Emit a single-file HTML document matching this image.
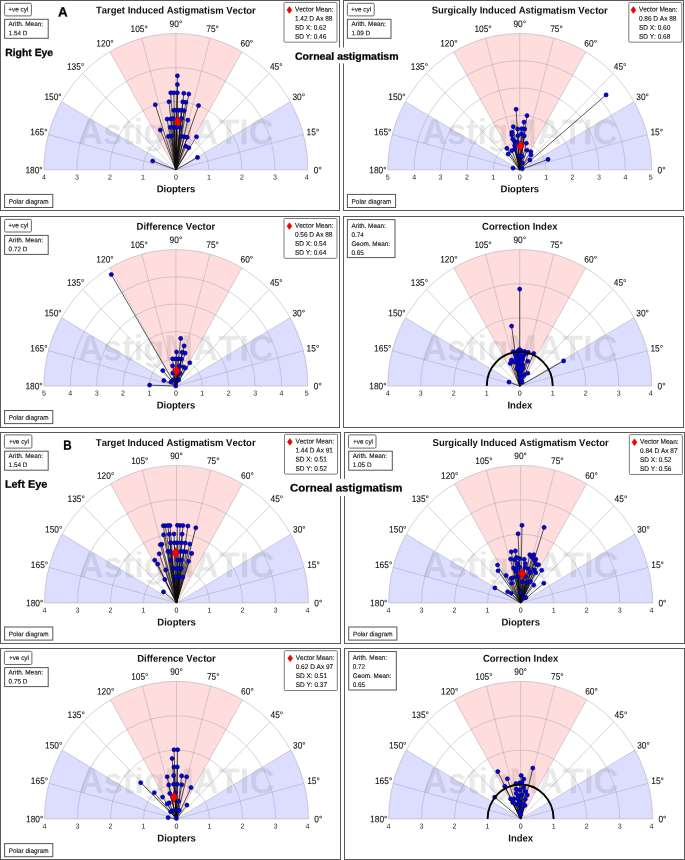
<!DOCTYPE html>
<html lang="en"><head><meta charset="utf-8"><title>Polar diagrams</title>
<style>html,body{margin:0;padding:0;background:#fff}body{width:685px;height:860px;overflow:hidden}svg{display:block}text{font-family:"Liberation Sans", sans-serif;font-kerning:none}</style></head><body>
<svg width="685" height="860" viewBox="0 0 685 860">
<rect width="685" height="860" fill="#fff"/>
<g>
<rect x="0.5" y="0.5" width="339" height="210" fill="#fff" stroke="#5a5a5a" stroke-width="1"/>
<path d="M175.9 169.85L241.93 51.72A132.05 136.4 0 0 0 109.88 51.72Z" fill="#ffdddd"/>
<path d="M175.9 169.85L307.95 169.85A132.05 136.4 0 0 0 290.26 101.65Z" fill="#ddddff"/>
<path d="M175.9 169.85L61.54 101.65A132.05 136.4 0 0 0 43.85 169.85Z" fill="#ddddff"/>
<text transform="translate(175.95 144.15) rotate(0.05) scale(0.96 1)" font-size="36" font-weight="700" text-anchor="middle" fill="#000" fill-opacity="0.085">AstigMATIC</text>
<path d="M142.89 169.85A33.01 34.1 0 0 1 175.9 135.75A33.01 34.1 0 0 1 208.91 169.85M109.88 169.85A66.03 68.2 0 0 1 175.9 101.65A66.03 68.2 0 0 1 241.93 169.85M76.86 169.85A99.04 102.3 0 0 1 175.9 67.55A99.04 102.3 0 0 1 274.94 169.85M43.85 169.85A132.05 136.4 0 0 1 175.9 33.45A132.05 136.4 0 0 1 307.95 169.85M175.9 169.85L307.95 169.85M175.9 169.85L303.45 134.55M175.9 169.85L290.26 101.65M175.9 169.85L269.27 73.4M175.9 169.85L241.93 51.72M175.9 169.85L210.08 38.1M175.9 169.85L175.9 33.45M175.9 169.85L141.72 38.1M175.9 169.85L109.88 51.72M175.9 169.85L82.53 73.4M175.9 169.85L61.54 101.65M175.9 169.85L48.35 134.55M175.9 169.85L43.85 169.85" fill="none" stroke="rgba(165,165,175,0.6)" stroke-width="0.8"/>
<g font-size="9.3" text-anchor="middle" fill="#111" stroke="#111" stroke-width="0.1"><text transform="translate(317.75 173.15) rotate(0.05) scale(0.9 1)">0°</text><text transform="translate(312.92 135.31) rotate(0.05) scale(0.9 1)">15°</text><text transform="translate(298.75 100.05) rotate(0.05) scale(0.9 1)">30°</text><text transform="translate(276.2 69.77) rotate(0.05) scale(0.9 1)">45°</text><text transform="translate(246.83 46.54) rotate(0.05) scale(0.9 1)">60°</text><text transform="translate(212.61 31.93) rotate(0.05) scale(0.9 1)">75°</text><text transform="translate(175.9 26.95) rotate(0.05) scale(0.9 1)">90°</text><text transform="translate(139.19 31.93) rotate(0.05) scale(0.9 1)">105°</text><text transform="translate(104.98 46.54) rotate(0.05) scale(0.9 1)">120°</text><text transform="translate(75.6 69.77) rotate(0.05) scale(0.9 1)">135°</text><text transform="translate(53.05 100.05) rotate(0.05) scale(0.9 1)">150°</text><text transform="translate(38.88 135.31) rotate(0.05) scale(0.9 1)">165°</text><text transform="translate(34.05 173.15) rotate(0.05) scale(0.9 1)">180°</text></g>
<g font-size="7.1" text-anchor="middle" fill="#111"><text transform="translate(43.85 179.4) rotate(0.05)">4</text><text transform="translate(76.86 179.4) rotate(0.05)">3</text><text transform="translate(109.88 179.4) rotate(0.05)">2</text><text transform="translate(142.89 179.4) rotate(0.05)">1</text><text transform="translate(175.9 179.4) rotate(0.05)">0</text><text transform="translate(208.91 179.4) rotate(0.05)">1</text><text transform="translate(241.93 179.4) rotate(0.05)">2</text><text transform="translate(274.94 179.4) rotate(0.05)">3</text><text transform="translate(306.75 179.4) rotate(0.05)">4</text></g>
<text transform="translate(175.9 13.6) rotate(0.05) scale(0.96 1)" font-size="9.9" font-weight="700" text-anchor="middle" fill="#111">Target Induced Astigmatism Vector</text>
<text transform="translate(176 192.35) rotate(0.05) scale(0.96 1)" font-size="9.9" font-weight="700" text-anchor="middle" fill="#111">Diopters</text>
<path d="M175.9 169.85L177.4 75.8M175.9 169.85L177.4 84.5M175.9 169.85L170.7 92.8M175.9 169.85L173.8 92.8M175.9 169.85L177.4 92.8M175.9 169.85L183.8 93.2M175.9 169.85L188.8 94M175.9 169.85L169 101.7M175.9 169.85L182.8 101.9M175.9 169.85L185.8 102.3M175.9 169.85L155.3 104.7M175.9 169.85L198.5 105.6M175.9 169.85L173.8 110.2M175.9 169.85L176.2 110.2M175.9 169.85L178.7 110.2M175.9 169.85L181.2 110.3M175.9 169.85L184.1 110.6M175.9 169.85L167.1 119.1M175.9 169.85L170.9 118.9M175.9 169.85L173.4 118.6M175.9 169.85L181.4 118.6M175.9 169.85L187.8 120.1M175.9 169.85L170.2 127.3M175.9 169.85L173.8 127.3M175.9 169.85L176.5 127.3M175.9 169.85L180.2 127.4M175.9 169.85L160.4 130M175.9 169.85L168.4 136.4M175.9 169.85L171.4 136M175.9 169.85L181.8 136.3M175.9 169.85L184.5 136.8M175.9 169.85L187.2 137.3M175.9 169.85L196.5 136.8M175.9 169.85L185.8 146.3M175.9 169.85L188.8 147.8M175.9 169.85L197.5 157.4M175.9 169.85L152.7 161" fill="none" stroke="#0c0c0c" stroke-width="0.68"/>
<g fill="#0000e6" stroke="#000050" stroke-width="0.6"><circle cx="177.4" cy="75.8" r="2.05"/><circle cx="177.4" cy="84.5" r="2.05"/><circle cx="170.7" cy="92.8" r="2.05"/><circle cx="173.8" cy="92.8" r="2.05"/><circle cx="177.4" cy="92.8" r="2.05"/><circle cx="183.8" cy="93.2" r="2.05"/><circle cx="188.8" cy="94" r="2.05"/><circle cx="169" cy="101.7" r="2.05"/><circle cx="182.8" cy="101.9" r="2.05"/><circle cx="185.8" cy="102.3" r="2.05"/><circle cx="155.3" cy="104.7" r="2.05"/><circle cx="198.5" cy="105.6" r="2.05"/><circle cx="173.8" cy="110.2" r="2.05"/><circle cx="176.2" cy="110.2" r="2.05"/><circle cx="178.7" cy="110.2" r="2.05"/><circle cx="181.2" cy="110.3" r="2.05"/><circle cx="184.1" cy="110.6" r="2.05"/><circle cx="167.1" cy="119.1" r="2.05"/><circle cx="170.9" cy="118.9" r="2.05"/><circle cx="173.4" cy="118.6" r="2.05"/><circle cx="181.4" cy="118.6" r="2.05"/><circle cx="187.8" cy="120.1" r="2.05"/><circle cx="170.2" cy="127.3" r="2.05"/><circle cx="173.8" cy="127.3" r="2.05"/><circle cx="176.5" cy="127.3" r="2.05"/><circle cx="180.2" cy="127.4" r="2.05"/><circle cx="160.4" cy="130" r="2.05"/><circle cx="168.4" cy="136.4" r="2.05"/><circle cx="171.4" cy="136" r="2.05"/><circle cx="181.8" cy="136.3" r="2.05"/><circle cx="184.5" cy="136.8" r="2.05"/><circle cx="187.2" cy="137.3" r="2.05"/><circle cx="196.5" cy="136.8" r="2.05"/><circle cx="185.8" cy="146.3" r="2.05"/><circle cx="188.8" cy="147.8" r="2.05"/><circle cx="197.5" cy="157.4" r="2.05"/><circle cx="152.7" cy="161" r="2.05"/></g>
<path d="M177.5 116.15L181.25 121.4L177.5 126.65L173.75 121.4Z" fill="#ff0000" stroke="#7a0000" stroke-width="0.5"/>
<rect x="4.6" y="3.3" width="26.8" height="12.6" rx="1.2" fill="#fff" stroke="#6a6a6a" stroke-width="1"/>
<text transform="translate(8.3 11.45) rotate(0.05) scale(0.96 1)" font-size="6.66" fill="#111" stroke="#111" stroke-width="0.12">+ve cyl</text>
<rect x="4.6" y="19.3" width="43.6" height="19" fill="#fff" stroke="#555" stroke-width="1"/>
<text transform="translate(8.6 26.1) rotate(0.05) scale(0.96 1)" font-size="6.66" fill="#111" stroke="#111" stroke-width="0.12">Arith. Mean:</text>
<text transform="translate(8.6 35.15) rotate(0.05) scale(0.96 1)" font-size="6.66" fill="#111" stroke="#111" stroke-width="0.12">1.54 D</text>
<rect x="284" y="2.4" width="53" height="39.8" rx="0.8" fill="#fff" stroke="#7c7c7c" stroke-width="1"/>
<path d="M289.4 6.6l2.5 3.4l-2.5 3.4l-2.5 -3.4z" fill="#ff0000" stroke="#7a0000" stroke-width="0.4"/>
<text transform="translate(294.9 11.6) rotate(0.05) scale(0.96 1)" font-size="6.78" fill="#111" stroke="#111" stroke-width="0.12">Vector Mean:</text>
<text transform="translate(294.9 20.65) rotate(0.05) scale(0.96 1)" font-size="6.78" fill="#111" stroke="#111" stroke-width="0.12">1.42 D Ax 88</text>
<text transform="translate(294.9 29.7) rotate(0.05) scale(0.96 1)" font-size="6.78" fill="#111" stroke="#111" stroke-width="0.12">SD X: 0.62</text>
<text transform="translate(294.9 38.75) rotate(0.05) scale(0.96 1)" font-size="6.78" fill="#111" stroke="#111" stroke-width="0.12">SD Y: 0.46</text>
<rect x="4.6" y="194.4" width="48.2" height="13.1" fill="#fff" stroke="#555" stroke-width="1"/>
<text transform="translate(8.8 203.7) rotate(0.05) scale(0.96 1)" font-size="6.66" fill="#111" stroke="#111" stroke-width="0.12">Polar diagram</text>
</g>
<g>
<rect x="343.5" y="0.5" width="340" height="210" fill="#fff" stroke="#5a5a5a" stroke-width="1"/>
<path d="M519.75 169.85L585.77 51.72A132.05 136.4 0 0 0 453.73 51.72Z" fill="#ffdddd"/>
<path d="M519.75 169.85L651.8 169.85A132.05 136.4 0 0 0 634.11 101.65Z" fill="#ddddff"/>
<path d="M519.75 169.85L405.39 101.65A132.05 136.4 0 0 0 387.7 169.85Z" fill="#ddddff"/>
<text transform="translate(519.8 144.15) rotate(0.05) scale(0.96 1)" font-size="36" font-weight="700" text-anchor="middle" fill="#000" fill-opacity="0.085">AstigMATIC</text>
<path d="M493.34 169.85A26.41 27.28 0 0 1 519.75 142.57A26.41 27.28 0 0 1 546.16 169.85M466.93 169.85A52.82 54.56 0 0 1 519.75 115.29A52.82 54.56 0 0 1 572.57 169.85M440.52 169.85A79.23 81.84 0 0 1 519.75 88.01A79.23 81.84 0 0 1 598.98 169.85M414.11 169.85A105.64 109.12 0 0 1 519.75 60.73A105.64 109.12 0 0 1 625.39 169.85M387.7 169.85A132.05 136.4 0 0 1 519.75 33.45A132.05 136.4 0 0 1 651.8 169.85M519.75 169.85L651.8 169.85M519.75 169.85L647.3 134.55M519.75 169.85L634.11 101.65M519.75 169.85L613.12 73.4M519.75 169.85L585.77 51.72M519.75 169.85L553.93 38.1M519.75 169.85L519.75 33.45M519.75 169.85L485.57 38.1M519.75 169.85L453.73 51.72M519.75 169.85L426.38 73.4M519.75 169.85L405.39 101.65M519.75 169.85L392.2 134.55M519.75 169.85L387.7 169.85" fill="none" stroke="rgba(165,165,175,0.6)" stroke-width="0.8"/>
<g font-size="9.3" text-anchor="middle" fill="#111" stroke="#111" stroke-width="0.1"><text transform="translate(661.6 173.15) rotate(0.05) scale(0.9 1)">0°</text><text transform="translate(656.77 135.31) rotate(0.05) scale(0.9 1)">15°</text><text transform="translate(642.6 100.05) rotate(0.05) scale(0.9 1)">30°</text><text transform="translate(620.05 69.77) rotate(0.05) scale(0.9 1)">45°</text><text transform="translate(590.68 46.54) rotate(0.05) scale(0.9 1)">60°</text><text transform="translate(556.46 31.93) rotate(0.05) scale(0.9 1)">75°</text><text transform="translate(519.75 26.95) rotate(0.05) scale(0.9 1)">90°</text><text transform="translate(483.04 31.93) rotate(0.05) scale(0.9 1)">105°</text><text transform="translate(448.83 46.54) rotate(0.05) scale(0.9 1)">120°</text><text transform="translate(419.45 69.77) rotate(0.05) scale(0.9 1)">135°</text><text transform="translate(396.9 100.05) rotate(0.05) scale(0.9 1)">150°</text><text transform="translate(382.73 135.31) rotate(0.05) scale(0.9 1)">165°</text><text transform="translate(377.9 173.15) rotate(0.05) scale(0.9 1)">180°</text></g>
<g font-size="7.1" text-anchor="middle" fill="#111"><text transform="translate(387.7 179.4) rotate(0.05)">5</text><text transform="translate(414.11 179.4) rotate(0.05)">4</text><text transform="translate(440.52 179.4) rotate(0.05)">3</text><text transform="translate(466.93 179.4) rotate(0.05)">2</text><text transform="translate(493.34 179.4) rotate(0.05)">1</text><text transform="translate(519.75 179.4) rotate(0.05)">0</text><text transform="translate(546.16 179.4) rotate(0.05)">1</text><text transform="translate(572.57 179.4) rotate(0.05)">2</text><text transform="translate(598.98 179.4) rotate(0.05)">3</text><text transform="translate(625.39 179.4) rotate(0.05)">4</text><text transform="translate(650.6 179.4) rotate(0.05)">5</text></g>
<text transform="translate(519.75 13.6) rotate(0.05) scale(0.96 1)" font-size="9.9" font-weight="700" text-anchor="middle" fill="#111">Surgically Induced Astigmatism Vector</text>
<text transform="translate(519.85 192.35) rotate(0.05) scale(0.96 1)" font-size="9.9" font-weight="700" text-anchor="middle" fill="#111">Diopters</text>
<path d="M519.75 169.85L516.1 109.3M519.75 169.85L527 115.6M519.75 169.85L524 122.1M519.75 169.85L513.3 126.7M519.75 169.85L517.6 129M519.75 169.85L521.7 128.7M519.75 169.85L524.7 129M519.75 169.85L511.8 132.3M519.75 169.85L511.8 134.9M519.75 169.85L517.8 135.7M519.75 169.85L521.4 133.8M519.75 169.85L524.2 135.9M519.75 169.85L512.7 139.1M519.75 169.85L514.5 141M519.75 169.85L517.4 142M519.75 169.85L526.3 143.2M519.75 169.85L514.7 145.6M519.75 169.85L506.9 148.4M519.75 169.85L514.5 149.2M519.75 169.85L511.7 150.7M519.75 169.85L527 150.2M519.75 169.85L530.9 151.7M519.75 169.85L508.1 154M519.75 169.85L531.1 155.1M519.75 169.85L519.1 156M519.75 169.85L522.2 156.3M519.75 169.85L529.9 160.1M519.75 169.85L522.4 163M519.75 169.85L548 159.4M519.75 169.85L513 168.1M519.75 169.85L522.2 168.8M519.75 169.85L606.1 94.9" fill="none" stroke="#0c0c0c" stroke-width="0.68"/>
<g fill="#0000e6" stroke="#000050" stroke-width="0.6"><circle cx="516.1" cy="109.3" r="2.05"/><circle cx="527" cy="115.6" r="2.05"/><circle cx="524" cy="122.1" r="2.05"/><circle cx="513.3" cy="126.7" r="2.05"/><circle cx="517.6" cy="129" r="2.05"/><circle cx="521.7" cy="128.7" r="2.05"/><circle cx="524.7" cy="129" r="2.05"/><circle cx="511.8" cy="132.3" r="2.05"/><circle cx="511.8" cy="134.9" r="2.05"/><circle cx="517.8" cy="135.7" r="2.05"/><circle cx="521.4" cy="133.8" r="2.05"/><circle cx="524.2" cy="135.9" r="2.05"/><circle cx="512.7" cy="139.1" r="2.05"/><circle cx="514.5" cy="141" r="2.05"/><circle cx="517.4" cy="142" r="2.05"/><circle cx="526.3" cy="143.2" r="2.05"/><circle cx="514.7" cy="145.6" r="2.05"/><circle cx="506.9" cy="148.4" r="2.05"/><circle cx="514.5" cy="149.2" r="2.05"/><circle cx="511.7" cy="150.7" r="2.05"/><circle cx="527" cy="150.2" r="2.05"/><circle cx="530.9" cy="151.7" r="2.05"/><circle cx="508.1" cy="154" r="2.05"/><circle cx="531.1" cy="155.1" r="2.05"/><circle cx="519.1" cy="156" r="2.05"/><circle cx="522.2" cy="156.3" r="2.05"/><circle cx="529.9" cy="160.1" r="2.05"/><circle cx="522.4" cy="163" r="2.05"/><circle cx="548" cy="159.4" r="2.05"/><circle cx="513" cy="168.1" r="2.05"/><circle cx="522.2" cy="168.8" r="2.05"/><circle cx="606.1" cy="94.9" r="2.05"/></g>
<path d="M520.5 140.85L524.25 146.1L520.5 151.35L516.75 146.1Z" fill="#ff0000" stroke="#7a0000" stroke-width="0.5"/>
<rect x="347.4" y="3.3" width="26.8" height="12.6" rx="1.2" fill="#fff" stroke="#6a6a6a" stroke-width="1"/>
<text transform="translate(351.1 11.45) rotate(0.05) scale(0.96 1)" font-size="6.66" fill="#111" stroke="#111" stroke-width="0.12">+ve cyl</text>
<rect x="347.4" y="19.3" width="43.6" height="19" fill="#fff" stroke="#555" stroke-width="1"/>
<text transform="translate(351.4 26.1) rotate(0.05) scale(0.96 1)" font-size="6.66" fill="#111" stroke="#111" stroke-width="0.12">Arith. Mean:</text>
<text transform="translate(351.4 35.15) rotate(0.05) scale(0.96 1)" font-size="6.66" fill="#111" stroke="#111" stroke-width="0.12">1.09 D</text>
<rect x="628.8" y="2.4" width="53" height="39.8" rx="0.8" fill="#fff" stroke="#7c7c7c" stroke-width="1"/>
<path d="M633.4 6.6l2.5 3.4l-2.5 3.4l-2.5 -3.4z" fill="#ff0000" stroke="#7a0000" stroke-width="0.4"/>
<text transform="translate(638.9 11.6) rotate(0.05) scale(0.96 1)" font-size="6.78" fill="#111" stroke="#111" stroke-width="0.12">Vector Mean:</text>
<text transform="translate(638.9 20.65) rotate(0.05) scale(0.96 1)" font-size="6.78" fill="#111" stroke="#111" stroke-width="0.12">0.86 D Ax 88</text>
<text transform="translate(638.9 29.7) rotate(0.05) scale(0.96 1)" font-size="6.78" fill="#111" stroke="#111" stroke-width="0.12">SD X: 0.60</text>
<text transform="translate(638.9 38.75) rotate(0.05) scale(0.96 1)" font-size="6.78" fill="#111" stroke="#111" stroke-width="0.12">SD Y: 0.68</text>
<rect x="347.4" y="194.4" width="48.2" height="13.1" fill="#fff" stroke="#555" stroke-width="1"/>
<text transform="translate(351.6 203.7) rotate(0.05) scale(0.96 1)" font-size="6.66" fill="#111" stroke="#111" stroke-width="0.12">Polar diagram</text>
</g>
<g>
<rect x="0.5" y="216.5" width="339" height="211" fill="#fff" stroke="#5a5a5a" stroke-width="1"/>
<path d="M175.9 386.05L241.93 267.79A132.05 136.55 0 0 0 109.88 267.79Z" fill="#ffdddd"/>
<path d="M175.9 386.05L307.95 386.05A132.05 136.55 0 0 0 290.26 317.78Z" fill="#ddddff"/>
<path d="M175.9 386.05L61.54 317.78A132.05 136.55 0 0 0 43.85 386.05Z" fill="#ddddff"/>
<text transform="translate(175.95 360.35) rotate(0.05) scale(0.96 1)" font-size="36" font-weight="700" text-anchor="middle" fill="#000" fill-opacity="0.085">AstigMATIC</text>
<path d="M149.49 386.05A26.41 27.31 0 0 1 175.9 358.74A26.41 27.31 0 0 1 202.31 386.05M123.08 386.05A52.82 54.62 0 0 1 175.9 331.43A52.82 54.62 0 0 1 228.72 386.05M96.67 386.05A79.23 81.93 0 0 1 175.9 304.12A79.23 81.93 0 0 1 255.13 386.05M70.26 386.05A105.64 109.24 0 0 1 175.9 276.81A105.64 109.24 0 0 1 281.54 386.05M43.85 386.05A132.05 136.55 0 0 1 175.9 249.5A132.05 136.55 0 0 1 307.95 386.05M175.9 386.05L307.95 386.05M175.9 386.05L303.45 350.71M175.9 386.05L290.26 317.78M175.9 386.05L269.27 289.49M175.9 386.05L241.93 267.79M175.9 386.05L210.08 254.15M175.9 386.05L175.9 249.5M175.9 386.05L141.72 254.15M175.9 386.05L109.88 267.79M175.9 386.05L82.53 289.49M175.9 386.05L61.54 317.78M175.9 386.05L48.35 350.71M175.9 386.05L43.85 386.05" fill="none" stroke="rgba(165,165,175,0.6)" stroke-width="0.8"/>
<g font-size="9.3" text-anchor="middle" fill="#111" stroke="#111" stroke-width="0.1"><text transform="translate(317.75 389.35) rotate(0.05) scale(0.9 1)">0°</text><text transform="translate(312.92 351.47) rotate(0.05) scale(0.9 1)">15°</text><text transform="translate(298.75 316.18) rotate(0.05) scale(0.9 1)">30°</text><text transform="translate(276.2 285.86) rotate(0.05) scale(0.9 1)">45°</text><text transform="translate(246.83 262.61) rotate(0.05) scale(0.9 1)">60°</text><text transform="translate(212.61 247.99) rotate(0.05) scale(0.9 1)">75°</text><text transform="translate(175.9 243) rotate(0.05) scale(0.9 1)">90°</text><text transform="translate(139.19 247.99) rotate(0.05) scale(0.9 1)">105°</text><text transform="translate(104.98 262.61) rotate(0.05) scale(0.9 1)">120°</text><text transform="translate(75.6 285.86) rotate(0.05) scale(0.9 1)">135°</text><text transform="translate(53.05 316.18) rotate(0.05) scale(0.9 1)">150°</text><text transform="translate(38.88 351.47) rotate(0.05) scale(0.9 1)">165°</text><text transform="translate(34.05 389.35) rotate(0.05) scale(0.9 1)">180°</text></g>
<g font-size="7.1" text-anchor="middle" fill="#111"><text transform="translate(43.85 395.6) rotate(0.05)">5</text><text transform="translate(70.26 395.6) rotate(0.05)">4</text><text transform="translate(96.67 395.6) rotate(0.05)">3</text><text transform="translate(123.08 395.6) rotate(0.05)">2</text><text transform="translate(149.49 395.6) rotate(0.05)">1</text><text transform="translate(175.9 395.6) rotate(0.05)">0</text><text transform="translate(202.31 395.6) rotate(0.05)">1</text><text transform="translate(228.72 395.6) rotate(0.05)">2</text><text transform="translate(255.13 395.6) rotate(0.05)">3</text><text transform="translate(281.54 395.6) rotate(0.05)">4</text><text transform="translate(306.75 395.6) rotate(0.05)">5</text></g>
<text transform="translate(175.9 229.7) rotate(0.05) scale(0.96 1)" font-size="9.9" font-weight="700" text-anchor="middle" fill="#111">Difference Vector</text>
<text transform="translate(176 408.55) rotate(0.05) scale(0.96 1)" font-size="9.9" font-weight="700" text-anchor="middle" fill="#111">Diopters</text>
<path d="M175.9 386.05L180.7 338.4M175.9 386.05L184.1 345.9M175.9 386.05L176.5 352M175.9 386.05L182.2 352.4M175.9 386.05L185.1 353.1M175.9 386.05L172.6 358.9M175.9 386.05L175.6 358.9M175.9 386.05L178.3 358.9M175.9 386.05L181.4 359.1M175.9 386.05L189.8 362.7M175.9 386.05L172.6 365.8M175.9 386.05L179.4 366M175.9 386.05L183.6 367.1M175.9 386.05L185.4 368M175.9 386.05L162.8 370.6M175.9 386.05L172.8 373.1M175.9 386.05L180 373.3M175.9 386.05L173.4 379.7M175.9 386.05L178.7 379.9M175.9 386.05L163.8 380.5M175.9 386.05L170.9 381.9M175.9 386.05L149.6 385.1M175.9 386.05L175.8 386M175.9 386.05L111.3 274.5" fill="none" stroke="#0c0c0c" stroke-width="0.68"/>
<g fill="#0000e6" stroke="#000050" stroke-width="0.6"><circle cx="180.7" cy="338.4" r="2.05"/><circle cx="184.1" cy="345.9" r="2.05"/><circle cx="176.5" cy="352" r="2.05"/><circle cx="182.2" cy="352.4" r="2.05"/><circle cx="185.1" cy="353.1" r="2.05"/><circle cx="172.6" cy="358.9" r="2.05"/><circle cx="175.6" cy="358.9" r="2.05"/><circle cx="178.3" cy="358.9" r="2.05"/><circle cx="181.4" cy="359.1" r="2.05"/><circle cx="189.8" cy="362.7" r="2.05"/><circle cx="172.6" cy="365.8" r="2.05"/><circle cx="179.4" cy="366" r="2.05"/><circle cx="183.6" cy="367.1" r="2.05"/><circle cx="185.4" cy="368" r="2.05"/><circle cx="162.8" cy="370.6" r="2.05"/><circle cx="172.8" cy="373.1" r="2.05"/><circle cx="180" cy="373.3" r="2.05"/><circle cx="173.4" cy="379.7" r="2.05"/><circle cx="178.7" cy="379.9" r="2.05"/><circle cx="163.8" cy="380.5" r="2.05"/><circle cx="170.9" cy="381.9" r="2.05"/><circle cx="149.6" cy="385.1" r="2.05"/><circle cx="175.8" cy="386" r="2.05"/><circle cx="111.3" cy="274.5" r="2.05"/></g>
<path d="M176.5 365.65L180.25 370.9L176.5 376.15L172.75 370.9Z" fill="#ff0000" stroke="#7a0000" stroke-width="0.5"/>
<rect x="4.6" y="219.4" width="26.8" height="12.6" rx="1.2" fill="#fff" stroke="#6a6a6a" stroke-width="1"/>
<text transform="translate(8.3 227.55) rotate(0.05) scale(0.96 1)" font-size="6.66" fill="#111" stroke="#111" stroke-width="0.12">+ve cyl</text>
<rect x="4.6" y="235.4" width="43.6" height="19" fill="#fff" stroke="#555" stroke-width="1"/>
<text transform="translate(8.6 242.2) rotate(0.05) scale(0.96 1)" font-size="6.66" fill="#111" stroke="#111" stroke-width="0.12">Arith. Mean:</text>
<text transform="translate(8.6 251.25) rotate(0.05) scale(0.96 1)" font-size="6.66" fill="#111" stroke="#111" stroke-width="0.12">0.72 D</text>
<rect x="284" y="218.5" width="53" height="39.8" rx="0.8" fill="#fff" stroke="#7c7c7c" stroke-width="1"/>
<path d="M289.4 222.7l2.5 3.4l-2.5 3.4l-2.5 -3.4z" fill="#ff0000" stroke="#7a0000" stroke-width="0.4"/>
<text transform="translate(294.9 227.7) rotate(0.05) scale(0.96 1)" font-size="6.78" fill="#111" stroke="#111" stroke-width="0.12">Vector Mean:</text>
<text transform="translate(294.9 236.75) rotate(0.05) scale(0.96 1)" font-size="6.78" fill="#111" stroke="#111" stroke-width="0.12">0.56 D Ax 88</text>
<text transform="translate(294.9 245.8) rotate(0.05) scale(0.96 1)" font-size="6.78" fill="#111" stroke="#111" stroke-width="0.12">SD X: 0.54</text>
<text transform="translate(294.9 254.85) rotate(0.05) scale(0.96 1)" font-size="6.78" fill="#111" stroke="#111" stroke-width="0.12">SD Y: 0.64</text>
<rect x="4.6" y="410.5" width="48.2" height="13.1" fill="#fff" stroke="#555" stroke-width="1"/>
<text transform="translate(8.8 419.8) rotate(0.05) scale(0.96 1)" font-size="6.66" fill="#111" stroke="#111" stroke-width="0.12">Polar diagram</text>
</g>
<g>
<rect x="343.5" y="216.5" width="340" height="211" fill="#fff" stroke="#5a5a5a" stroke-width="1"/>
<path d="M519.75 386.05L585.77 267.79A132.05 136.55 0 0 0 453.73 267.79Z" fill="#ffdddd"/>
<path d="M519.75 386.05L651.8 386.05A132.05 136.55 0 0 0 634.11 317.78Z" fill="#ddddff"/>
<path d="M519.75 386.05L405.39 317.78A132.05 136.55 0 0 0 387.7 386.05Z" fill="#ddddff"/>
<text transform="translate(519.8 360.35) rotate(0.05) scale(0.96 1)" font-size="36" font-weight="700" text-anchor="middle" fill="#000" fill-opacity="0.085">AstigMATIC</text>
<path d="M486.74 386.05A33.01 34.14 0 0 1 519.75 351.91A33.01 34.14 0 0 1 552.76 386.05M453.73 386.05A66.03 68.28 0 0 1 519.75 317.77A66.03 68.28 0 0 1 585.77 386.05M420.71 386.05A99.04 102.41 0 0 1 519.75 283.64A99.04 102.41 0 0 1 618.79 386.05M387.7 386.05A132.05 136.55 0 0 1 519.75 249.5A132.05 136.55 0 0 1 651.8 386.05M519.75 386.05L651.8 386.05M519.75 386.05L647.3 350.71M519.75 386.05L634.11 317.78M519.75 386.05L613.12 289.49M519.75 386.05L585.77 267.79M519.75 386.05L553.93 254.15M519.75 386.05L519.75 249.5M519.75 386.05L485.57 254.15M519.75 386.05L453.73 267.79M519.75 386.05L426.38 289.49M519.75 386.05L405.39 317.78M519.75 386.05L392.2 350.71M519.75 386.05L387.7 386.05" fill="none" stroke="rgba(165,165,175,0.6)" stroke-width="0.8"/>
<g font-size="9.3" text-anchor="middle" fill="#111" stroke="#111" stroke-width="0.1"><text transform="translate(661.6 389.35) rotate(0.05) scale(0.9 1)">0°</text><text transform="translate(656.77 351.47) rotate(0.05) scale(0.9 1)">15°</text><text transform="translate(642.6 316.18) rotate(0.05) scale(0.9 1)">30°</text><text transform="translate(620.05 285.86) rotate(0.05) scale(0.9 1)">45°</text><text transform="translate(590.68 262.61) rotate(0.05) scale(0.9 1)">60°</text><text transform="translate(556.46 247.99) rotate(0.05) scale(0.9 1)">75°</text><text transform="translate(519.75 243) rotate(0.05) scale(0.9 1)">90°</text><text transform="translate(483.04 247.99) rotate(0.05) scale(0.9 1)">105°</text><text transform="translate(448.83 262.61) rotate(0.05) scale(0.9 1)">120°</text><text transform="translate(419.45 285.86) rotate(0.05) scale(0.9 1)">135°</text><text transform="translate(396.9 316.18) rotate(0.05) scale(0.9 1)">150°</text><text transform="translate(382.73 351.47) rotate(0.05) scale(0.9 1)">165°</text><text transform="translate(377.9 389.35) rotate(0.05) scale(0.9 1)">180°</text></g>
<g font-size="7.1" text-anchor="middle" fill="#111"><text transform="translate(387.7 395.6) rotate(0.05)">4</text><text transform="translate(420.71 395.6) rotate(0.05)">3</text><text transform="translate(453.73 395.6) rotate(0.05)">2</text><text transform="translate(486.74 395.6) rotate(0.05)">1</text><text transform="translate(519.75 395.6) rotate(0.05)">0</text><text transform="translate(552.76 395.6) rotate(0.05)">1</text><text transform="translate(585.77 395.6) rotate(0.05)">2</text><text transform="translate(618.79 395.6) rotate(0.05)">3</text><text transform="translate(650.6 395.6) rotate(0.05)">4</text></g>
<text transform="translate(519.75 229.7) rotate(0.05) scale(0.96 1)" font-size="9.9" font-weight="700" text-anchor="middle" fill="#111">Correction Index</text>
<text transform="translate(519.85 408.55) rotate(0.05) scale(0.96 1)" font-size="9.9" font-weight="700" text-anchor="middle" fill="#111">Index</text>
<path d="M519.75 386.05L519.7 289.1M519.75 386.05L511.6 326.1M519.75 386.05L563.6 360.9M519.75 386.05L513.2 351.7M519.75 386.05L519.5 349.5M519.75 386.05L517.6 351.3M519.75 386.05L521.3 350.9M519.75 386.05L524.6 351.5M519.75 386.05L528.2 352.4M519.75 386.05L533.7 353.5M519.75 386.05L515.4 354.6M519.75 386.05L518.4 356.1M519.75 386.05L523.1 356.2M519.75 386.05L511.4 360.1M519.75 386.05L522.4 359.3M519.75 386.05L514.3 361.9M519.75 386.05L517.6 361.5M519.75 386.05L527.8 361.2M519.75 386.05L510.3 363.4M519.75 386.05L518.4 364.8M519.75 386.05L522.7 364.8M519.75 386.05L516.9 368.8M519.75 386.05L523.1 368.1M519.75 386.05L520.2 371.4M519.75 386.05L527.8 373.2M519.75 386.05L519.8 374.3M519.75 386.05L524.2 375M519.75 386.05L520.9 379.8M519.75 386.05L522 382.2M519.75 386.05L509 382.1M519.75 386.05L519.9 352.6M519.75 386.05L520.6 358.2M519.75 386.05L519.2 366.6M519.75 386.05L521 362.2M519.75 386.05L521.4 377M519.75 386.05L516 358.4M519.75 386.05L520.4 354.4M519.75 386.05L525.2 354M519.75 386.05L521.2 370" fill="none" stroke="#0c0c0c" stroke-width="0.68"/>
<g fill="#0000e6" stroke="#000050" stroke-width="0.6"><circle cx="519.7" cy="289.1" r="2.05"/><circle cx="511.6" cy="326.1" r="2.05"/><circle cx="563.6" cy="360.9" r="2.05"/><circle cx="513.2" cy="351.7" r="2.05"/><circle cx="519.5" cy="349.5" r="2.05"/><circle cx="517.6" cy="351.3" r="2.05"/><circle cx="521.3" cy="350.9" r="2.05"/><circle cx="524.6" cy="351.5" r="2.05"/><circle cx="528.2" cy="352.4" r="2.05"/><circle cx="533.7" cy="353.5" r="2.05"/><circle cx="515.4" cy="354.6" r="2.05"/><circle cx="518.4" cy="356.1" r="2.05"/><circle cx="523.1" cy="356.2" r="2.05"/><circle cx="511.4" cy="360.1" r="2.05"/><circle cx="522.4" cy="359.3" r="2.05"/><circle cx="514.3" cy="361.9" r="2.05"/><circle cx="517.6" cy="361.5" r="2.05"/><circle cx="527.8" cy="361.2" r="2.05"/><circle cx="510.3" cy="363.4" r="2.05"/><circle cx="518.4" cy="364.8" r="2.05"/><circle cx="522.7" cy="364.8" r="2.05"/><circle cx="516.9" cy="368.8" r="2.05"/><circle cx="523.1" cy="368.1" r="2.05"/><circle cx="520.2" cy="371.4" r="2.05"/><circle cx="527.8" cy="373.2" r="2.05"/><circle cx="519.8" cy="374.3" r="2.05"/><circle cx="524.2" cy="375" r="2.05"/><circle cx="520.9" cy="379.8" r="2.05"/><circle cx="522" cy="382.2" r="2.05"/><circle cx="509" cy="382.1" r="2.05"/><circle cx="519.9" cy="352.6" r="2.05"/><circle cx="520.6" cy="358.2" r="2.05"/><circle cx="519.2" cy="366.6" r="2.05"/><circle cx="521" cy="362.2" r="2.05"/><circle cx="521.4" cy="377" r="2.05"/><circle cx="516" cy="358.4" r="2.05"/><circle cx="520.4" cy="354.4" r="2.05"/><circle cx="525.2" cy="354" r="2.05"/><circle cx="521.2" cy="370" r="2.05"/></g>
<path d="M486.74 386.05A33.01 34.14 0 0 1 519.75 351.91A33.01 34.14 0 0 1 552.76 386.05" fill="none" stroke="#000" stroke-width="1.9"/>
<rect x="347.4" y="219.6" width="47.6" height="38" fill="#fff" stroke="#555" stroke-width="1"/>
<text transform="translate(351.4 227.9) rotate(0.05) scale(0.96 1)" font-size="6.66" fill="#111" stroke="#111" stroke-width="0.12">Arith. Mean:</text>
<text transform="translate(351.4 236.95) rotate(0.05) scale(0.96 1)" font-size="6.66" fill="#111" stroke="#111" stroke-width="0.12">0.74</text>
<text transform="translate(351.4 246) rotate(0.05) scale(0.96 1)" font-size="6.66" fill="#111" stroke="#111" stroke-width="0.12">Geom. Mean:</text>
<text transform="translate(351.4 255.05) rotate(0.05) scale(0.96 1)" font-size="6.66" fill="#111" stroke="#111" stroke-width="0.12">0.65</text>
</g>
<g>
<rect x="0.5" y="432.5" width="340" height="211" fill="#fff" stroke="#5a5a5a" stroke-width="1"/>
<path d="M176.5 602.95L242.53 483.83A132.05 137.55 0 0 0 110.48 483.83Z" fill="#ffdddd"/>
<path d="M176.5 602.95L308.55 602.95A132.05 137.55 0 0 0 290.86 534.18Z" fill="#ddddff"/>
<path d="M176.5 602.95L62.14 534.18A132.05 137.55 0 0 0 44.45 602.95Z" fill="#ddddff"/>
<text transform="translate(176.55 577.25) rotate(0.05) scale(0.96 1)" font-size="36" font-weight="700" text-anchor="middle" fill="#000" fill-opacity="0.085">AstigMATIC</text>
<path d="M143.49 602.95A33.01 34.39 0 0 1 176.5 568.56A33.01 34.39 0 0 1 209.51 602.95M110.47 602.95A66.03 68.78 0 0 1 176.5 534.18A66.03 68.78 0 0 1 242.53 602.95M77.46 602.95A99.04 103.16 0 0 1 176.5 499.79A99.04 103.16 0 0 1 275.54 602.95M44.45 602.95A132.05 137.55 0 0 1 176.5 465.4A132.05 137.55 0 0 1 308.55 602.95M176.5 602.95L308.55 602.95M176.5 602.95L304.05 567.35M176.5 602.95L290.86 534.18M176.5 602.95L269.87 505.69M176.5 602.95L242.53 483.83M176.5 602.95L210.68 470.09M176.5 602.95L176.5 465.4M176.5 602.95L142.32 470.09M176.5 602.95L110.48 483.83M176.5 602.95L83.13 505.69M176.5 602.95L62.14 534.18M176.5 602.95L48.95 567.35M176.5 602.95L44.45 602.95" fill="none" stroke="rgba(165,165,175,0.6)" stroke-width="0.8"/>
<g font-size="9.3" text-anchor="middle" fill="#111" stroke="#111" stroke-width="0.1"><text transform="translate(318.35 606.25) rotate(0.05) scale(0.9 1)">0°</text><text transform="translate(313.52 568.11) rotate(0.05) scale(0.9 1)">15°</text><text transform="translate(299.35 532.58) rotate(0.05) scale(0.9 1)">30°</text><text transform="translate(276.8 502.06) rotate(0.05) scale(0.9 1)">45°</text><text transform="translate(247.43 478.64) rotate(0.05) scale(0.9 1)">60°</text><text transform="translate(213.21 463.92) rotate(0.05) scale(0.9 1)">75°</text><text transform="translate(176.5 458.9) rotate(0.05) scale(0.9 1)">90°</text><text transform="translate(139.79 463.92) rotate(0.05) scale(0.9 1)">105°</text><text transform="translate(105.58 478.64) rotate(0.05) scale(0.9 1)">120°</text><text transform="translate(76.2 502.06) rotate(0.05) scale(0.9 1)">135°</text><text transform="translate(53.65 532.58) rotate(0.05) scale(0.9 1)">150°</text><text transform="translate(39.48 568.11) rotate(0.05) scale(0.9 1)">165°</text><text transform="translate(34.65 606.25) rotate(0.05) scale(0.9 1)">180°</text></g>
<g font-size="7.1" text-anchor="middle" fill="#111"><text transform="translate(44.45 612.5) rotate(0.05)">4</text><text transform="translate(77.46 612.5) rotate(0.05)">3</text><text transform="translate(110.47 612.5) rotate(0.05)">2</text><text transform="translate(143.49 612.5) rotate(0.05)">1</text><text transform="translate(176.5 612.5) rotate(0.05)">0</text><text transform="translate(209.51 612.5) rotate(0.05)">1</text><text transform="translate(242.53 612.5) rotate(0.05)">2</text><text transform="translate(275.54 612.5) rotate(0.05)">3</text><text transform="translate(307.35 612.5) rotate(0.05)">4</text></g>
<text transform="translate(175.7 446) rotate(0.05) scale(0.96 1)" font-size="9.9" font-weight="700" text-anchor="middle" fill="#111">Target Induced Astigmatism Vector</text>
<text transform="translate(176.6 625.45) rotate(0.05) scale(0.96 1)" font-size="9.9" font-weight="700" text-anchor="middle" fill="#111">Diopters</text>
<path d="M176.5 602.95L163.3 525.7M176.5 602.95L165.3 525.7M176.5 602.95L167.9 525.5M176.5 602.95L170 525.5M176.5 602.95L177.4 525.3M176.5 602.95L180.1 525.5M176.5 602.95L183 525.5M176.5 602.95L187.9 526M176.5 602.95L195.8 527.8M176.5 602.95L163.6 534.8M176.5 602.95L169.3 534.2M176.5 602.95L174 534M176.5 602.95L182.1 534.1M176.5 602.95L170.5 542.8M176.5 602.95L174.3 542.8M176.5 602.95L177.4 542.8M176.5 602.95L181.5 542.8M176.5 602.95L185.3 543M176.5 602.95L189.7 544M176.5 602.95L160.3 544.7M176.5 602.95L161.9 544.3M176.5 602.95L167.9 551.5M176.5 602.95L170.2 551.5M176.5 602.95L180.5 551.5M176.5 602.95L183.3 551.5M176.5 602.95L186.2 551.7M176.5 602.95L191.7 553.4M176.5 602.95L159.2 553.8M176.5 602.95L170.5 560M176.5 602.95L177.4 560M176.5 602.95L181.5 560M176.5 602.95L188.6 561.2M176.5 602.95L154.8 560.2M176.5 602.95L157.7 564.1M176.5 602.95L173.5 568.4M176.5 602.95L177.4 568.4M176.5 602.95L181.3 568.4M176.5 602.95L165.6 569.9M176.5 602.95L175.5 576.9M176.5 602.95L179.2 576.9M176.5 602.95L182.7 577.1M176.5 602.95L164.8 579.5M176.5 602.95L163.5 591.9" fill="none" stroke="#0c0c0c" stroke-width="0.68"/>
<g fill="#0000e6" stroke="#000050" stroke-width="0.6"><circle cx="163.3" cy="525.7" r="2.05"/><circle cx="165.3" cy="525.7" r="2.05"/><circle cx="167.9" cy="525.5" r="2.05"/><circle cx="170" cy="525.5" r="2.05"/><circle cx="177.4" cy="525.3" r="2.05"/><circle cx="180.1" cy="525.5" r="2.05"/><circle cx="183" cy="525.5" r="2.05"/><circle cx="187.9" cy="526" r="2.05"/><circle cx="195.8" cy="527.8" r="2.05"/><circle cx="163.6" cy="534.8" r="2.05"/><circle cx="169.3" cy="534.2" r="2.05"/><circle cx="174" cy="534" r="2.05"/><circle cx="182.1" cy="534.1" r="2.05"/><circle cx="170.5" cy="542.8" r="2.05"/><circle cx="174.3" cy="542.8" r="2.05"/><circle cx="177.4" cy="542.8" r="2.05"/><circle cx="181.5" cy="542.8" r="2.05"/><circle cx="185.3" cy="543" r="2.05"/><circle cx="189.7" cy="544" r="2.05"/><circle cx="160.3" cy="544.7" r="2.05"/><circle cx="161.9" cy="544.3" r="2.05"/><circle cx="167.9" cy="551.5" r="2.05"/><circle cx="170.2" cy="551.5" r="2.05"/><circle cx="180.5" cy="551.5" r="2.05"/><circle cx="183.3" cy="551.5" r="2.05"/><circle cx="186.2" cy="551.7" r="2.05"/><circle cx="191.7" cy="553.4" r="2.05"/><circle cx="159.2" cy="553.8" r="2.05"/><circle cx="170.5" cy="560" r="2.05"/><circle cx="177.4" cy="560" r="2.05"/><circle cx="181.5" cy="560" r="2.05"/><circle cx="188.6" cy="561.2" r="2.05"/><circle cx="154.8" cy="560.2" r="2.05"/><circle cx="157.7" cy="564.1" r="2.05"/><circle cx="173.5" cy="568.4" r="2.05"/><circle cx="177.4" cy="568.4" r="2.05"/><circle cx="181.3" cy="568.4" r="2.05"/><circle cx="165.6" cy="569.9" r="2.05"/><circle cx="175.5" cy="576.9" r="2.05"/><circle cx="179.2" cy="576.9" r="2.05"/><circle cx="182.7" cy="577.1" r="2.05"/><circle cx="164.8" cy="579.5" r="2.05"/><circle cx="163.5" cy="591.9" r="2.05"/></g>
<path d="M175.5 547.75L179.25 553L175.5 558.25L171.75 553Z" fill="#ff0000" stroke="#7a0000" stroke-width="0.5"/>
<rect x="4.4" y="434.9" width="27.5" height="13.2" rx="1.2" fill="#fff" stroke="#6a6a6a" stroke-width="1"/>
<text transform="translate(8.9 443.7) rotate(0.05) scale(0.96 1)" font-size="6.66" fill="#111" stroke="#111" stroke-width="0.12">+ve cyl</text>
<rect x="4.6" y="451.2" width="43.6" height="19" fill="#fff" stroke="#555" stroke-width="1"/>
<text transform="translate(8.6 458) rotate(0.05) scale(0.96 1)" font-size="6.66" fill="#111" stroke="#111" stroke-width="0.12">Arith. Mean:</text>
<text transform="translate(8.6 467.05) rotate(0.05) scale(0.96 1)" font-size="6.66" fill="#111" stroke="#111" stroke-width="0.12">1.54 D</text>
<rect x="284.5" y="434.3" width="53" height="39.8" rx="0.8" fill="#fff" stroke="#7c7c7c" stroke-width="1"/>
<path d="M289.9 438.5l2.5 3.4l-2.5 3.4l-2.5 -3.4z" fill="#ff0000" stroke="#7a0000" stroke-width="0.4"/>
<text transform="translate(295.4 443.5) rotate(0.05) scale(0.96 1)" font-size="6.78" fill="#111" stroke="#111" stroke-width="0.12">Vector Mean:</text>
<text transform="translate(295.4 452.55) rotate(0.05) scale(0.96 1)" font-size="6.78" fill="#111" stroke="#111" stroke-width="0.12">1.44 D Ax 91</text>
<text transform="translate(295.4 461.6) rotate(0.05) scale(0.96 1)" font-size="6.78" fill="#111" stroke="#111" stroke-width="0.12">SD X: 0.51</text>
<text transform="translate(295.4 470.65) rotate(0.05) scale(0.96 1)" font-size="6.78" fill="#111" stroke="#111" stroke-width="0.12">SD Y: 0.52</text>
<rect x="4.6" y="627" width="48.2" height="13.1" fill="#fff" stroke="#555" stroke-width="1"/>
<text transform="translate(8.8 636.3) rotate(0.05) scale(0.96 1)" font-size="6.66" fill="#111" stroke="#111" stroke-width="0.12">Polar diagram</text>
</g>
<g>
<rect x="344.5" y="432.5" width="340" height="211" fill="#fff" stroke="#5a5a5a" stroke-width="1"/>
<path d="M520.6 602.95L586.62 483.83A132.05 137.55 0 0 0 454.58 483.83Z" fill="#ffdddd"/>
<path d="M520.6 602.95L652.65 602.95A132.05 137.55 0 0 0 634.96 534.18Z" fill="#ddddff"/>
<path d="M520.6 602.95L406.24 534.18A132.05 137.55 0 0 0 388.55 602.95Z" fill="#ddddff"/>
<text transform="translate(520.65 577.25) rotate(0.05) scale(0.96 1)" font-size="36" font-weight="700" text-anchor="middle" fill="#000" fill-opacity="0.085">AstigMATIC</text>
<path d="M487.59 602.95A33.01 34.39 0 0 1 520.6 568.56A33.01 34.39 0 0 1 553.61 602.95M454.58 602.95A66.03 68.78 0 0 1 520.6 534.18A66.03 68.78 0 0 1 586.62 602.95M421.56 602.95A99.04 103.16 0 0 1 520.6 499.79A99.04 103.16 0 0 1 619.64 602.95M388.55 602.95A132.05 137.55 0 0 1 520.6 465.4A132.05 137.55 0 0 1 652.65 602.95M520.6 602.95L652.65 602.95M520.6 602.95L648.15 567.35M520.6 602.95L634.96 534.18M520.6 602.95L613.97 505.69M520.6 602.95L586.62 483.83M520.6 602.95L554.78 470.09M520.6 602.95L520.6 465.4M520.6 602.95L486.42 470.09M520.6 602.95L454.58 483.83M520.6 602.95L427.23 505.69M520.6 602.95L406.24 534.18M520.6 602.95L393.05 567.35M520.6 602.95L388.55 602.95" fill="none" stroke="rgba(165,165,175,0.6)" stroke-width="0.8"/>
<g font-size="9.3" text-anchor="middle" fill="#111" stroke="#111" stroke-width="0.1"><text transform="translate(662.45 606.25) rotate(0.05) scale(0.9 1)">0°</text><text transform="translate(657.62 568.11) rotate(0.05) scale(0.9 1)">15°</text><text transform="translate(643.45 532.58) rotate(0.05) scale(0.9 1)">30°</text><text transform="translate(620.9 502.06) rotate(0.05) scale(0.9 1)">45°</text><text transform="translate(591.53 478.64) rotate(0.05) scale(0.9 1)">60°</text><text transform="translate(557.31 463.92) rotate(0.05) scale(0.9 1)">75°</text><text transform="translate(520.6 458.9) rotate(0.05) scale(0.9 1)">90°</text><text transform="translate(483.89 463.92) rotate(0.05) scale(0.9 1)">105°</text><text transform="translate(449.68 478.64) rotate(0.05) scale(0.9 1)">120°</text><text transform="translate(420.3 502.06) rotate(0.05) scale(0.9 1)">135°</text><text transform="translate(397.75 532.58) rotate(0.05) scale(0.9 1)">150°</text><text transform="translate(383.58 568.11) rotate(0.05) scale(0.9 1)">165°</text><text transform="translate(378.75 606.25) rotate(0.05) scale(0.9 1)">180°</text></g>
<g font-size="7.1" text-anchor="middle" fill="#111"><text transform="translate(388.55 612.5) rotate(0.05)">4</text><text transform="translate(421.56 612.5) rotate(0.05)">3</text><text transform="translate(454.58 612.5) rotate(0.05)">2</text><text transform="translate(487.59 612.5) rotate(0.05)">1</text><text transform="translate(520.6 612.5) rotate(0.05)">0</text><text transform="translate(553.61 612.5) rotate(0.05)">1</text><text transform="translate(586.62 612.5) rotate(0.05)">2</text><text transform="translate(619.64 612.5) rotate(0.05)">3</text><text transform="translate(651.45 612.5) rotate(0.05)">4</text></g>
<text transform="translate(520.6 446) rotate(0.05) scale(0.96 1)" font-size="9.9" font-weight="700" text-anchor="middle" fill="#111">Surgically Induced Astigmatism Vector</text>
<text transform="translate(520.7 625.45) rotate(0.05) scale(0.96 1)" font-size="9.9" font-weight="700" text-anchor="middle" fill="#111">Diopters</text>
<path d="M520.6 602.95L522 525.3M520.6 602.95L544.1 527.4M520.6 602.95L518.1 533.8M520.6 602.95L511.2 551.8M520.6 602.95L515.4 550.9M520.6 602.95L529.7 554.8M520.6 602.95L533.8 554.8M520.6 602.95L531.9 557.3M520.6 602.95L510.6 559M520.6 602.95L516.5 557.5M520.6 602.95L514.6 559.7M520.6 602.95L519.5 558.6M520.6 602.95L524.2 559.2M520.6 602.95L535.8 559.2M520.6 602.95L534.7 560.8M520.6 602.95L517.4 563.6M520.6 602.95L525.3 563.6M520.6 602.95L536.4 564.4M520.6 602.95L538.6 564.7M520.6 602.95L497.5 565M520.6 602.95L513.5 568M520.6 602.95L516.5 568.4M520.6 602.95L519.5 567.1M520.6 602.95L525 567.5M520.6 602.95L528.4 568.8M520.6 602.95L534.2 569.9M520.6 602.95L541.7 570.2M520.6 602.95L498 570.8M520.6 602.95L516.3 571.3M520.6 602.95L530.3 572.4M520.6 602.95L535.8 572.7M520.6 602.95L506.2 575.5M520.6 602.95L517.6 576.9M520.6 602.95L525.3 576.3M520.6 602.95L511 578.5M520.6 602.95L512.8 577.7M520.6 602.95L522.2 581.6M520.6 602.95L527 582.7M520.6 602.95L530.5 581.6M520.6 602.95L511.8 583.2M520.6 602.95L533.8 585.1M520.6 602.95L543.8 583.3M520.6 602.95L494.9 587.9M520.6 602.95L507.6 591.8M520.6 602.95L511.3 593.2M520.6 602.95L521.1 592.7M520.6 602.95L524.2 597.8M520.6 602.95L525.9 597.6" fill="none" stroke="#0c0c0c" stroke-width="0.68"/>
<g fill="#0000e6" stroke="#000050" stroke-width="0.6"><circle cx="522" cy="525.3" r="2.05"/><circle cx="544.1" cy="527.4" r="2.05"/><circle cx="518.1" cy="533.8" r="2.05"/><circle cx="511.2" cy="551.8" r="2.05"/><circle cx="515.4" cy="550.9" r="2.05"/><circle cx="529.7" cy="554.8" r="2.05"/><circle cx="533.8" cy="554.8" r="2.05"/><circle cx="531.9" cy="557.3" r="2.05"/><circle cx="510.6" cy="559" r="2.05"/><circle cx="516.5" cy="557.5" r="2.05"/><circle cx="514.6" cy="559.7" r="2.05"/><circle cx="519.5" cy="558.6" r="2.05"/><circle cx="524.2" cy="559.2" r="2.05"/><circle cx="535.8" cy="559.2" r="2.05"/><circle cx="534.7" cy="560.8" r="2.05"/><circle cx="517.4" cy="563.6" r="2.05"/><circle cx="525.3" cy="563.6" r="2.05"/><circle cx="536.4" cy="564.4" r="2.05"/><circle cx="538.6" cy="564.7" r="2.05"/><circle cx="497.5" cy="565" r="2.05"/><circle cx="513.5" cy="568" r="2.05"/><circle cx="516.5" cy="568.4" r="2.05"/><circle cx="519.5" cy="567.1" r="2.05"/><circle cx="525" cy="567.5" r="2.05"/><circle cx="528.4" cy="568.8" r="2.05"/><circle cx="534.2" cy="569.9" r="2.05"/><circle cx="541.7" cy="570.2" r="2.05"/><circle cx="498" cy="570.8" r="2.05"/><circle cx="516.3" cy="571.3" r="2.05"/><circle cx="530.3" cy="572.4" r="2.05"/><circle cx="535.8" cy="572.7" r="2.05"/><circle cx="506.2" cy="575.5" r="2.05"/><circle cx="517.6" cy="576.9" r="2.05"/><circle cx="525.3" cy="576.3" r="2.05"/><circle cx="511" cy="578.5" r="2.05"/><circle cx="512.8" cy="577.7" r="2.05"/><circle cx="522.2" cy="581.6" r="2.05"/><circle cx="527" cy="582.7" r="2.05"/><circle cx="530.5" cy="581.6" r="2.05"/><circle cx="511.8" cy="583.2" r="2.05"/><circle cx="533.8" cy="585.1" r="2.05"/><circle cx="543.8" cy="583.3" r="2.05"/><circle cx="494.9" cy="587.9" r="2.05"/><circle cx="507.6" cy="591.8" r="2.05"/><circle cx="511.3" cy="593.2" r="2.05"/><circle cx="521.1" cy="592.7" r="2.05"/><circle cx="524.2" cy="597.8" r="2.05"/><circle cx="525.9" cy="597.6" r="2.05"/></g>
<path d="M522.2 568.55L525.95 573.8L522.2 579.05L518.45 573.8Z" fill="#ff0000" stroke="#7a0000" stroke-width="0.5"/>
<rect x="348.5" y="434.9" width="27.5" height="13.2" rx="1.2" fill="#fff" stroke="#6a6a6a" stroke-width="1"/>
<text transform="translate(353 443.7) rotate(0.05) scale(0.96 1)" font-size="6.66" fill="#111" stroke="#111" stroke-width="0.12">+ve cyl</text>
<rect x="348.7" y="451.2" width="43.6" height="19" fill="#fff" stroke="#555" stroke-width="1"/>
<text transform="translate(352.7 458) rotate(0.05) scale(0.96 1)" font-size="6.66" fill="#111" stroke="#111" stroke-width="0.12">Arith. Mean:</text>
<text transform="translate(352.7 467.05) rotate(0.05) scale(0.96 1)" font-size="6.66" fill="#111" stroke="#111" stroke-width="0.12">1.05 D</text>
<rect x="629.35" y="434.65" width="53" height="39.8" rx="0.8" fill="#fff" stroke="#7c7c7c" stroke-width="1"/>
<path d="M634.5 438.85l2.5 3.4l-2.5 3.4l-2.5 -3.4z" fill="#ff0000" stroke="#7a0000" stroke-width="0.4"/>
<text transform="translate(640 443.85) rotate(0.05) scale(0.96 1)" font-size="6.78" fill="#111" stroke="#111" stroke-width="0.12">Vector Mean:</text>
<text transform="translate(640 452.9) rotate(0.05) scale(0.96 1)" font-size="6.78" fill="#111" stroke="#111" stroke-width="0.12">0.84 D Ax 87</text>
<text transform="translate(640 461.95) rotate(0.05) scale(0.96 1)" font-size="6.78" fill="#111" stroke="#111" stroke-width="0.12">SD X: 0.52</text>
<text transform="translate(640 471) rotate(0.05) scale(0.96 1)" font-size="6.78" fill="#111" stroke="#111" stroke-width="0.12">SD Y: 0.56</text>
<rect x="348.7" y="627" width="48.2" height="13.1" fill="#fff" stroke="#555" stroke-width="1"/>
<text transform="translate(352.9 636.3) rotate(0.05) scale(0.96 1)" font-size="6.66" fill="#111" stroke="#111" stroke-width="0.12">Polar diagram</text>
</g>
<g>
<rect x="0.5" y="648.5" width="340" height="211" fill="#fff" stroke="#5a5a5a" stroke-width="1"/>
<path d="M176.5 818.9L242.53 699.78A132.05 137.55 0 0 0 110.48 699.78Z" fill="#ffdddd"/>
<path d="M176.5 818.9L308.55 818.9A132.05 137.55 0 0 0 290.86 750.12Z" fill="#ddddff"/>
<path d="M176.5 818.9L62.14 750.12A132.05 137.55 0 0 0 44.45 818.9Z" fill="#ddddff"/>
<text transform="translate(176.55 793.2) rotate(0.05) scale(0.96 1)" font-size="36" font-weight="700" text-anchor="middle" fill="#000" fill-opacity="0.085">AstigMATIC</text>
<path d="M143.49 818.9A33.01 34.39 0 0 1 176.5 784.51A33.01 34.39 0 0 1 209.51 818.9M110.47 818.9A66.03 68.78 0 0 1 176.5 750.12A66.03 68.78 0 0 1 242.53 818.9M77.46 818.9A99.04 103.16 0 0 1 176.5 715.74A99.04 103.16 0 0 1 275.54 818.9M44.45 818.9A132.05 137.55 0 0 1 176.5 681.35A132.05 137.55 0 0 1 308.55 818.9M176.5 818.9L308.55 818.9M176.5 818.9L304.05 783.3M176.5 818.9L290.86 750.12M176.5 818.9L269.87 721.64M176.5 818.9L242.53 699.78M176.5 818.9L210.68 686.04M176.5 818.9L176.5 681.35M176.5 818.9L142.32 686.04M176.5 818.9L110.48 699.78M176.5 818.9L83.13 721.64M176.5 818.9L62.14 750.12M176.5 818.9L48.95 783.3M176.5 818.9L44.45 818.9" fill="none" stroke="rgba(165,165,175,0.6)" stroke-width="0.8"/>
<g font-size="9.3" text-anchor="middle" fill="#111" stroke="#111" stroke-width="0.1"><text transform="translate(318.35 822.2) rotate(0.05) scale(0.9 1)">0°</text><text transform="translate(313.52 784.06) rotate(0.05) scale(0.9 1)">15°</text><text transform="translate(299.35 748.52) rotate(0.05) scale(0.9 1)">30°</text><text transform="translate(276.8 718.01) rotate(0.05) scale(0.9 1)">45°</text><text transform="translate(247.43 694.59) rotate(0.05) scale(0.9 1)">60°</text><text transform="translate(213.21 679.87) rotate(0.05) scale(0.9 1)">75°</text><text transform="translate(176.5 674.85) rotate(0.05) scale(0.9 1)">90°</text><text transform="translate(139.79 679.87) rotate(0.05) scale(0.9 1)">105°</text><text transform="translate(105.58 694.59) rotate(0.05) scale(0.9 1)">120°</text><text transform="translate(76.2 718.01) rotate(0.05) scale(0.9 1)">135°</text><text transform="translate(53.65 748.52) rotate(0.05) scale(0.9 1)">150°</text><text transform="translate(39.48 784.06) rotate(0.05) scale(0.9 1)">165°</text><text transform="translate(34.65 822.2) rotate(0.05) scale(0.9 1)">180°</text></g>
<g font-size="7.1" text-anchor="middle" fill="#111"><text transform="translate(44.45 828.45) rotate(0.05)">4</text><text transform="translate(77.46 828.45) rotate(0.05)">3</text><text transform="translate(110.47 828.45) rotate(0.05)">2</text><text transform="translate(143.49 828.45) rotate(0.05)">1</text><text transform="translate(176.5 828.45) rotate(0.05)">0</text><text transform="translate(209.51 828.45) rotate(0.05)">1</text><text transform="translate(242.53 828.45) rotate(0.05)">2</text><text transform="translate(275.54 828.45) rotate(0.05)">3</text><text transform="translate(307.35 828.45) rotate(0.05)">4</text></g>
<text transform="translate(176.5 661.7) rotate(0.05) scale(0.96 1)" font-size="9.9" font-weight="700" text-anchor="middle" fill="#111">Difference Vector</text>
<text transform="translate(176.6 841.4) rotate(0.05) scale(0.96 1)" font-size="9.9" font-weight="700" text-anchor="middle" fill="#111">Diopters</text>
<path d="M176.5 818.9L174 749.7M176.5 818.9L177.7 749.7M176.5 818.9L172.2 758.5M176.5 818.9L173.9 767M176.5 818.9L177.3 767M176.5 818.9L167.2 776.8M176.5 818.9L173.6 775.6M176.5 818.9L181.6 775.9M176.5 818.9L186.6 776.8M176.5 818.9L140.7 782.7M176.5 818.9L168.7 784.9M176.5 818.9L173.6 784.2M176.5 818.9L177.3 784.2M176.5 818.9L181.7 784.7M176.5 818.9L191 787.5M176.5 818.9L154.3 792.8M176.5 818.9L169.8 793.5M176.5 818.9L175.5 792.8M176.5 818.9L162.6 797.1M176.5 818.9L169.2 802.9M176.5 818.9L167.2 804M176.5 818.9L178.6 801.3M176.5 818.9L186.9 805.1M176.5 818.9L172.5 810.7M176.5 818.9L170.6 811.8M176.5 818.9L176.9 810.1M176.5 818.9L179.2 810.4M176.5 818.9L168.1 817.6M176.5 818.9L176.4 818.4" fill="none" stroke="#0c0c0c" stroke-width="0.68"/>
<g fill="#0000e6" stroke="#000050" stroke-width="0.6"><circle cx="174" cy="749.7" r="2.05"/><circle cx="177.7" cy="749.7" r="2.05"/><circle cx="172.2" cy="758.5" r="2.05"/><circle cx="173.9" cy="767" r="2.05"/><circle cx="177.3" cy="767" r="2.05"/><circle cx="167.2" cy="776.8" r="2.05"/><circle cx="173.6" cy="775.6" r="2.05"/><circle cx="181.6" cy="775.9" r="2.05"/><circle cx="186.6" cy="776.8" r="2.05"/><circle cx="140.7" cy="782.7" r="2.05"/><circle cx="168.7" cy="784.9" r="2.05"/><circle cx="173.6" cy="784.2" r="2.05"/><circle cx="177.3" cy="784.2" r="2.05"/><circle cx="181.7" cy="784.7" r="2.05"/><circle cx="191" cy="787.5" r="2.05"/><circle cx="154.3" cy="792.8" r="2.05"/><circle cx="169.8" cy="793.5" r="2.05"/><circle cx="175.5" cy="792.8" r="2.05"/><circle cx="162.6" cy="797.1" r="2.05"/><circle cx="169.2" cy="802.9" r="2.05"/><circle cx="167.2" cy="804" r="2.05"/><circle cx="178.6" cy="801.3" r="2.05"/><circle cx="186.9" cy="805.1" r="2.05"/><circle cx="172.5" cy="810.7" r="2.05"/><circle cx="170.6" cy="811.8" r="2.05"/><circle cx="176.9" cy="810.1" r="2.05"/><circle cx="179.2" cy="810.4" r="2.05"/><circle cx="168.1" cy="817.6" r="2.05"/><circle cx="176.4" cy="818.4" r="2.05"/></g>
<path d="M174 791.95L177.75 797.2L174 802.45L170.25 797.2Z" fill="#ff0000" stroke="#7a0000" stroke-width="0.5"/>
<rect x="4.4" y="651.3" width="27.5" height="13.2" rx="1.2" fill="#fff" stroke="#6a6a6a" stroke-width="1"/>
<text transform="translate(8.9 660.1) rotate(0.05) scale(0.96 1)" font-size="6.66" fill="#111" stroke="#111" stroke-width="0.12">+ve cyl</text>
<rect x="4.6" y="667.6" width="43.6" height="19" fill="#fff" stroke="#555" stroke-width="1"/>
<text transform="translate(8.6 674.4) rotate(0.05) scale(0.96 1)" font-size="6.66" fill="#111" stroke="#111" stroke-width="0.12">Arith. Mean:</text>
<text transform="translate(8.6 683.45) rotate(0.05) scale(0.96 1)" font-size="6.66" fill="#111" stroke="#111" stroke-width="0.12">0.75 D</text>
<rect x="284.3" y="650.7" width="53" height="39.8" rx="0.8" fill="#fff" stroke="#7c7c7c" stroke-width="1"/>
<path d="M290.2 654.9l2.5 3.4l-2.5 3.4l-2.5 -3.4z" fill="#ff0000" stroke="#7a0000" stroke-width="0.4"/>
<text transform="translate(295.7 659.9) rotate(0.05) scale(0.96 1)" font-size="6.78" fill="#111" stroke="#111" stroke-width="0.12">Vector Mean:</text>
<text transform="translate(295.7 668.95) rotate(0.05) scale(0.96 1)" font-size="6.78" fill="#111" stroke="#111" stroke-width="0.12">0.62 D Ax 97</text>
<text transform="translate(295.7 678) rotate(0.05) scale(0.96 1)" font-size="6.78" fill="#111" stroke="#111" stroke-width="0.12">SD X: 0.51</text>
<text transform="translate(295.7 687.05) rotate(0.05) scale(0.96 1)" font-size="6.78" fill="#111" stroke="#111" stroke-width="0.12">SD Y: 0.37</text>
<rect x="4.6" y="843.6" width="48.2" height="13.1" fill="#fff" stroke="#555" stroke-width="1"/>
<text transform="translate(8.8 852.9) rotate(0.05) scale(0.96 1)" font-size="6.66" fill="#111" stroke="#111" stroke-width="0.12">Polar diagram</text>
</g>
<g>
<rect x="344.5" y="648.5" width="340" height="211" fill="#fff" stroke="#5a5a5a" stroke-width="1"/>
<path d="M520.6 818.9L586.62 699.78A132.05 137.55 0 0 0 454.58 699.78Z" fill="#ffdddd"/>
<path d="M520.6 818.9L652.65 818.9A132.05 137.55 0 0 0 634.96 750.12Z" fill="#ddddff"/>
<path d="M520.6 818.9L406.24 750.12A132.05 137.55 0 0 0 388.55 818.9Z" fill="#ddddff"/>
<text transform="translate(520.65 793.2) rotate(0.05) scale(0.96 1)" font-size="36" font-weight="700" text-anchor="middle" fill="#000" fill-opacity="0.085">AstigMATIC</text>
<path d="M487.59 818.9A33.01 34.39 0 0 1 520.6 784.51A33.01 34.39 0 0 1 553.61 818.9M454.58 818.9A66.03 68.78 0 0 1 520.6 750.12A66.03 68.78 0 0 1 586.62 818.9M421.56 818.9A99.04 103.16 0 0 1 520.6 715.74A99.04 103.16 0 0 1 619.64 818.9M388.55 818.9A132.05 137.55 0 0 1 520.6 681.35A132.05 137.55 0 0 1 652.65 818.9M520.6 818.9L652.65 818.9M520.6 818.9L648.15 783.3M520.6 818.9L634.96 750.12M520.6 818.9L613.97 721.64M520.6 818.9L586.62 699.78M520.6 818.9L554.78 686.04M520.6 818.9L520.6 681.35M520.6 818.9L486.42 686.04M520.6 818.9L454.58 699.78M520.6 818.9L427.23 721.64M520.6 818.9L406.24 750.12M520.6 818.9L393.05 783.3M520.6 818.9L388.55 818.9" fill="none" stroke="rgba(165,165,175,0.6)" stroke-width="0.8"/>
<g font-size="9.3" text-anchor="middle" fill="#111" stroke="#111" stroke-width="0.1"><text transform="translate(662.45 822.2) rotate(0.05) scale(0.9 1)">0°</text><text transform="translate(657.62 784.06) rotate(0.05) scale(0.9 1)">15°</text><text transform="translate(643.45 748.52) rotate(0.05) scale(0.9 1)">30°</text><text transform="translate(620.9 718.01) rotate(0.05) scale(0.9 1)">45°</text><text transform="translate(591.53 694.59) rotate(0.05) scale(0.9 1)">60°</text><text transform="translate(557.31 679.87) rotate(0.05) scale(0.9 1)">75°</text><text transform="translate(520.6 674.85) rotate(0.05) scale(0.9 1)">90°</text><text transform="translate(483.89 679.87) rotate(0.05) scale(0.9 1)">105°</text><text transform="translate(449.68 694.59) rotate(0.05) scale(0.9 1)">120°</text><text transform="translate(420.3 718.01) rotate(0.05) scale(0.9 1)">135°</text><text transform="translate(397.75 748.52) rotate(0.05) scale(0.9 1)">150°</text><text transform="translate(383.58 784.06) rotate(0.05) scale(0.9 1)">165°</text><text transform="translate(378.75 822.2) rotate(0.05) scale(0.9 1)">180°</text></g>
<g font-size="7.1" text-anchor="middle" fill="#111"><text transform="translate(388.55 828.45) rotate(0.05)">4</text><text transform="translate(421.56 828.45) rotate(0.05)">3</text><text transform="translate(454.58 828.45) rotate(0.05)">2</text><text transform="translate(487.59 828.45) rotate(0.05)">1</text><text transform="translate(520.6 828.45) rotate(0.05)">0</text><text transform="translate(553.61 828.45) rotate(0.05)">1</text><text transform="translate(586.62 828.45) rotate(0.05)">2</text><text transform="translate(619.64 828.45) rotate(0.05)">3</text><text transform="translate(651.45 828.45) rotate(0.05)">4</text></g>
<text transform="translate(520.6 661.7) rotate(0.05) scale(0.96 1)" font-size="9.9" font-weight="700" text-anchor="middle" fill="#111">Correction Index</text>
<text transform="translate(520.7 841.4) rotate(0.05) scale(0.96 1)" font-size="9.9" font-weight="700" text-anchor="middle" fill="#111">Index</text>
<path d="M520.6 818.9L532.8 768.1M520.6 818.9L497.8 771.6M520.6 818.9L521.2 775.5M520.6 818.9L507.4 778.8M520.6 818.9L523.8 779.1M520.6 818.9L516 783.5M520.6 818.9L519.7 782.9M520.6 818.9L522 782.6M520.6 818.9L504.9 786.4M520.6 818.9L523.8 787.6M520.6 818.9L516.2 789M520.6 818.9L519.7 789.9M520.6 818.9L525.5 791.6M520.6 818.9L516.2 793.4M520.6 818.9L522 795.1M520.6 818.9L527.3 795.1M520.6 818.9L518.5 795.7M520.6 818.9L494.8 797.1M520.6 818.9L510.6 798.9M520.6 818.9L514.1 798.7M520.6 818.9L518 798.7M520.6 818.9L525.3 799.2M520.6 818.9L512.7 802.5M520.6 818.9L519.1 801.6M520.6 818.9L522 803.3M520.6 818.9L516.6 804.5M520.6 818.9L525 805.4M520.6 818.9L521.7 808.8M520.6 818.9L519.4 811.8M520.6 818.9L520.6 815" fill="none" stroke="#0c0c0c" stroke-width="0.68"/>
<g fill="#0000e6" stroke="#000050" stroke-width="0.6"><circle cx="532.8" cy="768.1" r="2.05"/><circle cx="497.8" cy="771.6" r="2.05"/><circle cx="521.2" cy="775.5" r="2.05"/><circle cx="507.4" cy="778.8" r="2.05"/><circle cx="523.8" cy="779.1" r="2.05"/><circle cx="516" cy="783.5" r="2.05"/><circle cx="519.7" cy="782.9" r="2.05"/><circle cx="522" cy="782.6" r="2.05"/><circle cx="504.9" cy="786.4" r="2.05"/><circle cx="523.8" cy="787.6" r="2.05"/><circle cx="516.2" cy="789" r="2.05"/><circle cx="519.7" cy="789.9" r="2.05"/><circle cx="525.5" cy="791.6" r="2.05"/><circle cx="516.2" cy="793.4" r="2.05"/><circle cx="522" cy="795.1" r="2.05"/><circle cx="527.3" cy="795.1" r="2.05"/><circle cx="518.5" cy="795.7" r="2.05"/><circle cx="494.8" cy="797.1" r="2.05"/><circle cx="510.6" cy="798.9" r="2.05"/><circle cx="514.1" cy="798.7" r="2.05"/><circle cx="518" cy="798.7" r="2.05"/><circle cx="525.3" cy="799.2" r="2.05"/><circle cx="512.7" cy="802.5" r="2.05"/><circle cx="519.1" cy="801.6" r="2.05"/><circle cx="522" cy="803.3" r="2.05"/><circle cx="516.6" cy="804.5" r="2.05"/><circle cx="525" cy="805.4" r="2.05"/><circle cx="521.7" cy="808.8" r="2.05"/><circle cx="519.4" cy="811.8" r="2.05"/><circle cx="520.6" cy="815" r="2.05"/></g>
<path d="M487.59 818.9A33.01 34.39 0 0 1 520.6 784.51A33.01 34.39 0 0 1 553.61 818.9" fill="none" stroke="#000" stroke-width="1.9"/>
<rect x="348.7" y="651.5" width="47.6" height="38.5" fill="#fff" stroke="#555" stroke-width="1"/>
<text transform="translate(352.7 659.8) rotate(0.05) scale(0.96 1)" font-size="6.66" fill="#111" stroke="#111" stroke-width="0.12">Arith. Mean:</text>
<text transform="translate(352.7 668.85) rotate(0.05) scale(0.96 1)" font-size="6.66" fill="#111" stroke="#111" stroke-width="0.12">0.72</text>
<text transform="translate(352.7 677.9) rotate(0.05) scale(0.96 1)" font-size="6.66" fill="#111" stroke="#111" stroke-width="0.12">Geom. Mean:</text>
<text transform="translate(352.7 686.95) rotate(0.05) scale(0.96 1)" font-size="6.66" fill="#111" stroke="#111" stroke-width="0.12">0.65</text>
</g>
<rect x="292" y="47.6" width="108" height="15.8" fill="#fff"/>
<rect x="288" y="478.9" width="116" height="17.1" fill="#fff"/>
<g font-weight="700" fill="#000" stroke="#000" stroke-width="0.25">
<text transform="translate(58 16.5) rotate(0.05)" font-size="13.4">A</text>
<text transform="translate(5.2 56) rotate(0.05)" font-size="10.4">Right Eye</text>
<text transform="translate(295 59.7) rotate(0.05)" font-size="10.4" textLength="103.6" lengthAdjust="spacingAndGlyphs">Corneal astigmatism</text>
<text transform="translate(63.2 449.8) rotate(0.05)" font-size="13.4" textLength="8.4" lengthAdjust="spacingAndGlyphs">B</text>
<text transform="translate(4.9 487.7) rotate(0.05)" font-size="10.9">Left Eye</text>
<text transform="translate(290 491.5) rotate(0.05)" font-size="10.9" textLength="112.4" lengthAdjust="spacingAndGlyphs">Corneal astigmatism</text>
</g>
</svg></body></html>
